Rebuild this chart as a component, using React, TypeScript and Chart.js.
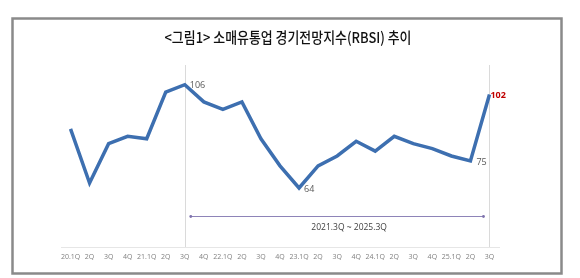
import React, { useEffect, useRef } from "react";
import { Chart, registerables } from "chart.js";

Chart.register(...registerables);

const categories = [
  "20.1Q", "2Q", "3Q", "4Q",
  "21.1Q", "2Q", "3Q", "4Q",
  "22.1Q", "2Q", "3Q", "4Q",
  "23.1Q", "2Q", "3Q", "4Q",
  "24.1Q", "2Q", "3Q", "4Q",
  "25.1Q", "2Q", "3Q",
];
const rbsi = [88, 66, 82, 85, 84, 103, 106, 99, 96, 99, 84, 73, 64, 73, 77, 83, 79, 85, 82, 80, 77, 75, 102];
const labelledIdx = [6, 12, 21, 22];
const highlightIdx = 22;
const periodStartIdx = 6;
const periodEndIdx = 22;
const titleText = "<그림1> 소매유통업 경기전망지수(RBSI) 추이";
const periodText = "2021.3Q ~ 2025.3Q";

const decorPlugin = {
  id: "decor",
  beforeDraw(chart: any) {
    const ctx = chart.ctx;
    ctx.save();
    ctx.fillStyle = "#ffffff";
    ctx.fillRect(0, 0, chart.width, chart.height);
    // frame
    ctx.strokeStyle = "#8a8a8a";
    ctx.lineWidth = 2.5;
    ctx.strokeRect(12.5, 18.5, 549, 255);
    // title, condensed
    ctx.fillStyle = "#111111";
    ctx.font = "500 15px 'Noto Sans CJK KR'";
    ctx.textBaseline = "middle";
    ctx.textAlign = "center";
    const w = ctx.measureText(titleText).width;
    const target = 247;
    const sx = target / w;
    ctx.translate(288, 37);
    ctx.scale(sx, 1);
    ctx.fillText(titleText, 0, 0);
    ctx.restore();
  },
  beforeDatasetsDraw(chart: any) {
    const ctx = chart.ctx;
    const xs = chart.scales.x;
    const area = chart.chartArea;
    ctx.save();
    ctx.strokeStyle = "#dadada";
    ctx.lineWidth = 1;
    [periodStartIdx, periodEndIdx].forEach((i) => {
      const x = Math.round(xs.getPixelForValue(i)) + 0.5;
      ctx.beginPath();
      ctx.moveTo(x, area.top);
      ctx.lineTo(x, area.bottom);
      ctx.stroke();
    });
    // period arrow
    const x1 = xs.getPixelForValue(periodStartIdx) + 6;
    const x2 = xs.getPixelForValue(periodEndIdx) - 6;
    const y = 216.5;
    ctx.strokeStyle = "#8e84b8";
    ctx.fillStyle = "#7e72ad";
    ctx.beginPath();
    ctx.moveTo(x1, y);
    ctx.lineTo(x2, y);
    ctx.stroke();
    [x1, x2].forEach((x) => {
      ctx.beginPath();
      ctx.arc(x, y, 1.4, 0, Math.PI * 2);
      ctx.fill();
    });
    ctx.fillStyle = "#404040";
    ctx.font = "8.5px 'Open Sans'";
    ctx.textAlign = "center";
    ctx.textBaseline = "middle";
    ctx.fillText(periodText, (x1 + x2) / 2 + 12, 228);
    ctx.restore();
  },
  afterDatasetsDraw(chart: any) {
    const ctx = chart.ctx;
    const meta = chart.getDatasetMeta(0);
    ctx.save();
    ctx.textBaseline = "middle";
    ctx.textAlign = "left";
    labelledIdx.forEach((i) => {
      const p = meta.data[i];
      const hl = i === highlightIdx;
      ctx.font = (hl ? "bold " : "") + "9px 'Open Sans'";
      ctx.fillStyle = hl ? "#c00000" : "#595959";
      const dx = hl ? 1 : i === 21 ? 6 : 5;
      const dy = hl ? 1 : i === 21 ? 2 : 1;
      ctx.fillText(String(rbsi[i]), p.x + dx, p.y + dy);
    });
    ctx.restore();
  },
};

export default function App() {
  const ref = useRef<HTMLCanvasElement | null>(null);
  useEffect(() => {
    if (!ref.current) return;
    const chart = new Chart(ref.current, {
      type: "line",
      data: {
        labels: categories,
        datasets: [
          {
            data: rbsi,
            borderColor: "#3d6fb0",
            borderWidth: 3.5,
            pointRadius: 0,
            tension: 0,
            fill: false,
          },
        ],
      },
      options: {
        responsive: false,
        animation: false,
        events: [],
        layout: { padding: { left: 61, right: 81, top: 65, bottom: 0 } },
        plugins: { legend: { display: false }, tooltip: { enabled: false }, title: { display: false } },
        scales: {
          x: {
            offset: true,
            grid: { display: false, drawTicks: false },
            border: { display: true, color: "#e6e6e6", width: 1 },
            ticks: {
              autoSkip: false,
              maxRotation: 0,
              minRotation: 0,
              padding: 6,
              color: "#808080",
              font: { family: "'Open Sans'", size: 7 },
            },
            afterFit: (scale: any) => {
              scale.height = 31;
            },
          },
          y: {
            display: false,
            min: 40,
            max: 114,
          },
        },
      },
      plugins: [decorPlugin],
    });
    return () => chart.destroy();
  }, []);
  return (
    <div style={{ position: "fixed", left: 0, top: 0, width: 580, height: 278, background: "#fff" }}>
      <canvas ref={ref} width={580} height={278} style={{ display: "block" }} />
    </div>
  );
}
